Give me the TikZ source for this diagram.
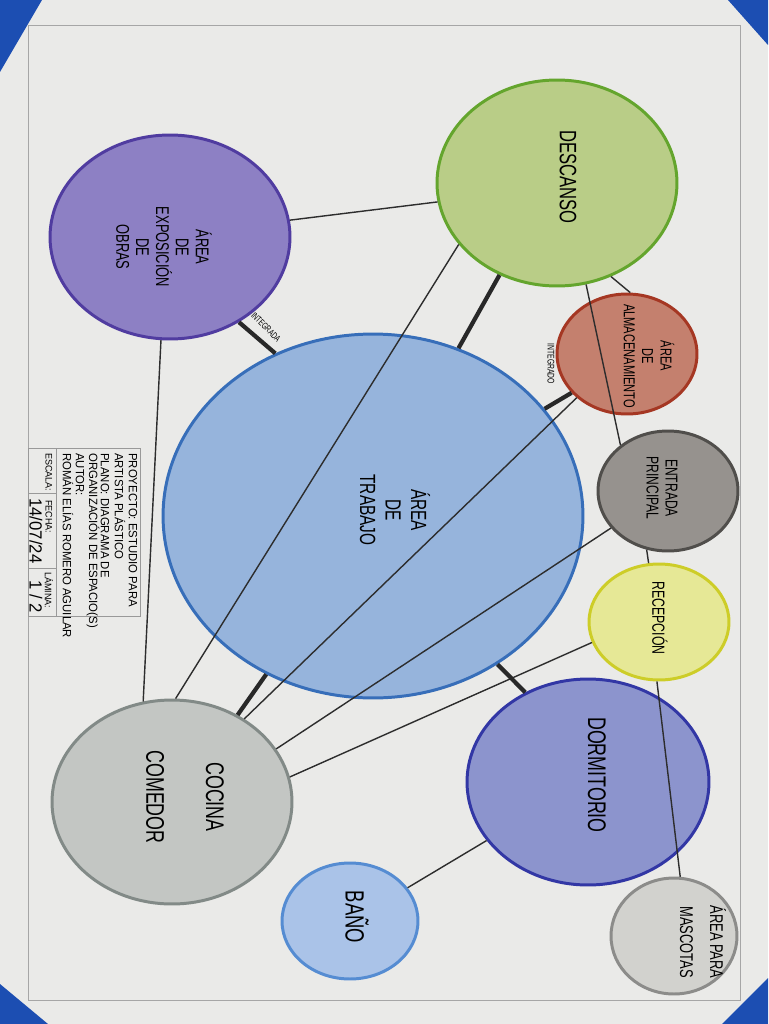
\documentclass[tikz,border=0pt]{standalone}
\usepackage{fontspec}
\setmainfont{Liberation Sans}
\newfontfamily\hand[FakeStretch=0.7]{Liberation Sans}
\newfontfamily\handw[FakeStretch=0.95]{Liberation Sans}
\usetikzlibrary{shapes.geometric}
\definecolor{paper}{RGB}{234,234,232}
\definecolor{tape}{RGB}{28,78,178}
\definecolor{pencil}{RGB}{45,45,45}
\definecolor{expF}{RGB}{141,128,196}\definecolor{expB}{RGB}{80,60,160}
\definecolor{desF}{RGB}{185,205,135}\definecolor{desB}{RGB}{100,165,45}
\definecolor{almF}{RGB}{196,128,110}\definecolor{almB}{RGB}{165,55,35}
\definecolor{entF}{RGB}{150,146,142}\definecolor{entB}{RGB}{80,78,75}
\definecolor{recF}{RGB}{230,232,150}\definecolor{recB}{RGB}{205,205,40}
\definecolor{traF}{RGB}{150,180,220}\definecolor{traB}{RGB}{55,110,185}
\definecolor{dorF}{RGB}{140,148,205}\definecolor{dorB}{RGB}{50,55,165}
\definecolor{cocF}{RGB}{195,198,195}\definecolor{cocB}{RGB}{130,138,135}
\definecolor{banF}{RGB}{170,195,232}\definecolor{banB}{RGB}{85,140,210}
\definecolor{masF}{RGB}{210,210,206}\definecolor{masB}{RGB}{140,140,138}
\tikzset{
  zone/.style={ellipse, draw, line width=1.7pt, inner sep=0pt},
  lab/.style={rotate=-90, align=center, inner sep=0pt, text=black},
  thin link/.style={draw=pencil, line width=0.8pt},
  thick link/.style={draw=pencil!90!black, line width=2.4pt},
  frame line/.style={draw=gray!70, line width=0.5pt},
  block/.style={rotate=-90, anchor=west, inner sep=0pt, font=\handw\fontsize{6.8}{6.8}\selectfont},
  small block/.style={block, font=\handw\fontsize{5.4}{5.4}\selectfont},
  big block/.style={block, font=\handw\fontsize{10}{10}\selectfont}
}
\begin{document}
\begin{tikzpicture}[x=0.02cm, y=-0.02cm]
\useasboundingbox (0,0) rectangle (768,1024);
\fill[paper] (0,0) rectangle (768,1024);
% tape corners
\fill[tape] (0,0) -- (42,0) -- (0,72) -- cycle;
\fill[tape] (728,0) -- (768,0) -- (768,45) -- cycle;
\fill[tape] (0,984) -- (48,1024) -- (0,1024) -- cycle;
\fill[tape] (768,978) -- (768,1024) -- (722,1024) -- cycle;
% frame
\draw[frame line] (28,25) rectangle (740,1000);

% zones
\node[zone, fill=expF, draw=expB, minimum width=4.8cm, minimum height=4.08cm] (exp) at (170,237) {};
\node[zone, fill=desF, draw=desB, minimum width=4.8cm, minimum height=4.12cm] (des) at (557,183) {};
\node[zone, fill=almF, draw=almB, minimum width=2.8cm, minimum height=2.4cm] (alm) at (627,354) {};
\node[zone, fill=entF, draw=entB, minimum width=2.8cm, minimum height=2.4cm] (ent) at (668,491) {};
\node[zone, fill=recF, draw=recB, minimum width=2.8cm, minimum height=2.32cm] (rec) at (659,622) {};
\node[zone, fill=traF, draw=traB, minimum width=8.4cm, minimum height=7.28cm] (tra) at (373,516) {};
\node[zone, fill=dorF, draw=dorB, minimum width=4.84cm, minimum height=4.12cm] (dor) at (588,782) {};
\node[zone, fill=cocF, draw=cocB, minimum width=4.8cm, minimum height=4.08cm] (coc) at (172,802) {};
\node[zone, fill=banF, draw=banB, minimum width=2.72cm, minimum height=2.32cm] (ban) at (350,921) {};
\node[zone, fill=masF, draw=masB, minimum width=2.52cm, minimum height=2.32cm] (mas) at (674,936) {};

% connectors
\draw[thin link] (exp.8) -- (des.189);
\draw[thin link] (exp.265) -- (coc.106);
\draw[thick link] (exp.309.5) -- (tra.121.6);
\draw[thick link] (des.238) -- (tra.63);
\draw[thin link] (des.212) -- (coc.88);
\draw[thin link] (des.286.7) -- (ent.136);
\draw[thin link] (des.300) -- (alm.87);
\draw[thin link] (ent.250.4) -- (rec.100.7);
\draw[thick link] (alm.215.7) -- (tra.32.4);
\draw[thin link] (alm.221.5) -- (coc.49);
\draw[thin link] (ent.213.9) -- (coc.27.7);
\draw[thin link] (rec.197.4) -- (coc.12.9);
\draw[thin link] (rec.268) -- (mas.84);
\draw[thick link] (tra.236.7) -- (coc.53.1);
\draw[thick link] (tra.310.3) -- (dor.125.9);
\draw[thin link] (dor.210.7) -- (ban.30.4);

% link labels
\node[rotate=-45, inner sep=0pt, font=\hand\fontsize{5.2}{5.2}\selectfont] (intA) at (266,327) {INTEGRADA};
\node[lab, font=\hand\fontsize{5.5}{5.5}\selectfont] (intB) at (551,364) {INTEGRADO};

% zone labels
\node[lab, font=\hand\fontsize{10.5}{11.3}\selectfont] (texp) at (164,247) {ÁREA\\DE\\EXPOSICIÓN\\DE\\OBRAS};
\node[lab, font=\hand\fontsize{13.5}{14}\selectfont] (tdes) at (568,177) {DESCANSO};
\node[lab, font=\hand\fontsize{9}{10.5}\selectfont] (talm) at (649,356) {ÁREA\\DE\\ALMACENAMIENTO};
\node[lab, font=\hand\fontsize{9.8}{10.8}\selectfont] (tent) at (662,488) {ENTRADA\\PRINCIPAL};
\node[lab, font=\hand\fontsize{10}{11}\selectfont] (trec) at (660,618) {RECEPCIÓN};
\node[lab, font=\hand\fontsize{12.5}{14.5}\selectfont] (ttra) at (395,510) {ÁREA\\DE\\TRABAJO};
\node[lab, font=\hand\fontsize{14.5}{15}\selectfont] (tdor) at (597,775) {DORMITORIO};
\node[lab, font=\hand\fontsize{14.5}{34}\selectfont] (tcoc) at (185,797) {COCINA\\COMEDOR};
\node[lab, font=\hand\fontsize{15}{16}\selectfont] (tban) at (357,917) {BAÑO};
\node[lab, font=\hand\fontsize{10.5}{17}\selectfont] (tmas) at (703,942) {ÁREA PARA\\MASCOTAS};

% title block
\draw[frame line, draw=gray!80] (28,448) rectangle (140,616);
\draw[frame line, draw=gray!80] (56,448) -- (56,616);
\draw[frame line, draw=gray!80] (28,493) -- (56,493);
\draw[frame line, draw=gray!80] (28,568) -- (56,568);
\node[block] (b1) at (133,453) {PROYECTO: ESTUDIO PARA};
\node[block] (b2) at (120,453) {ARTISTA PLÁSTICO};
\node[block] (b3) at (105,453) {PLANO: DIAGRAMA DE};
\node[block] (b4) at (93,453) {ORGANIZACIÓN DE ESPACIO(S)};
\node[block] (b5) at (80,453) {AUTOR:};
\node[block] (b6) at (68,453) {ROMÁN ELÍAS ROMERO AGUILAR};
\node[small block] (b7) at (49,453) {ESCALA:};
\node[small block] (b8) at (49,500) {FECHA:};
\node[big block] (b9) at (36,498) {14/07/24};
\node[small block] (b10) at (49,572) {LÁMINA:};
\node[big block] (b11) at (36,580) {1 / 2};
\end{tikzpicture}
\end{document}
